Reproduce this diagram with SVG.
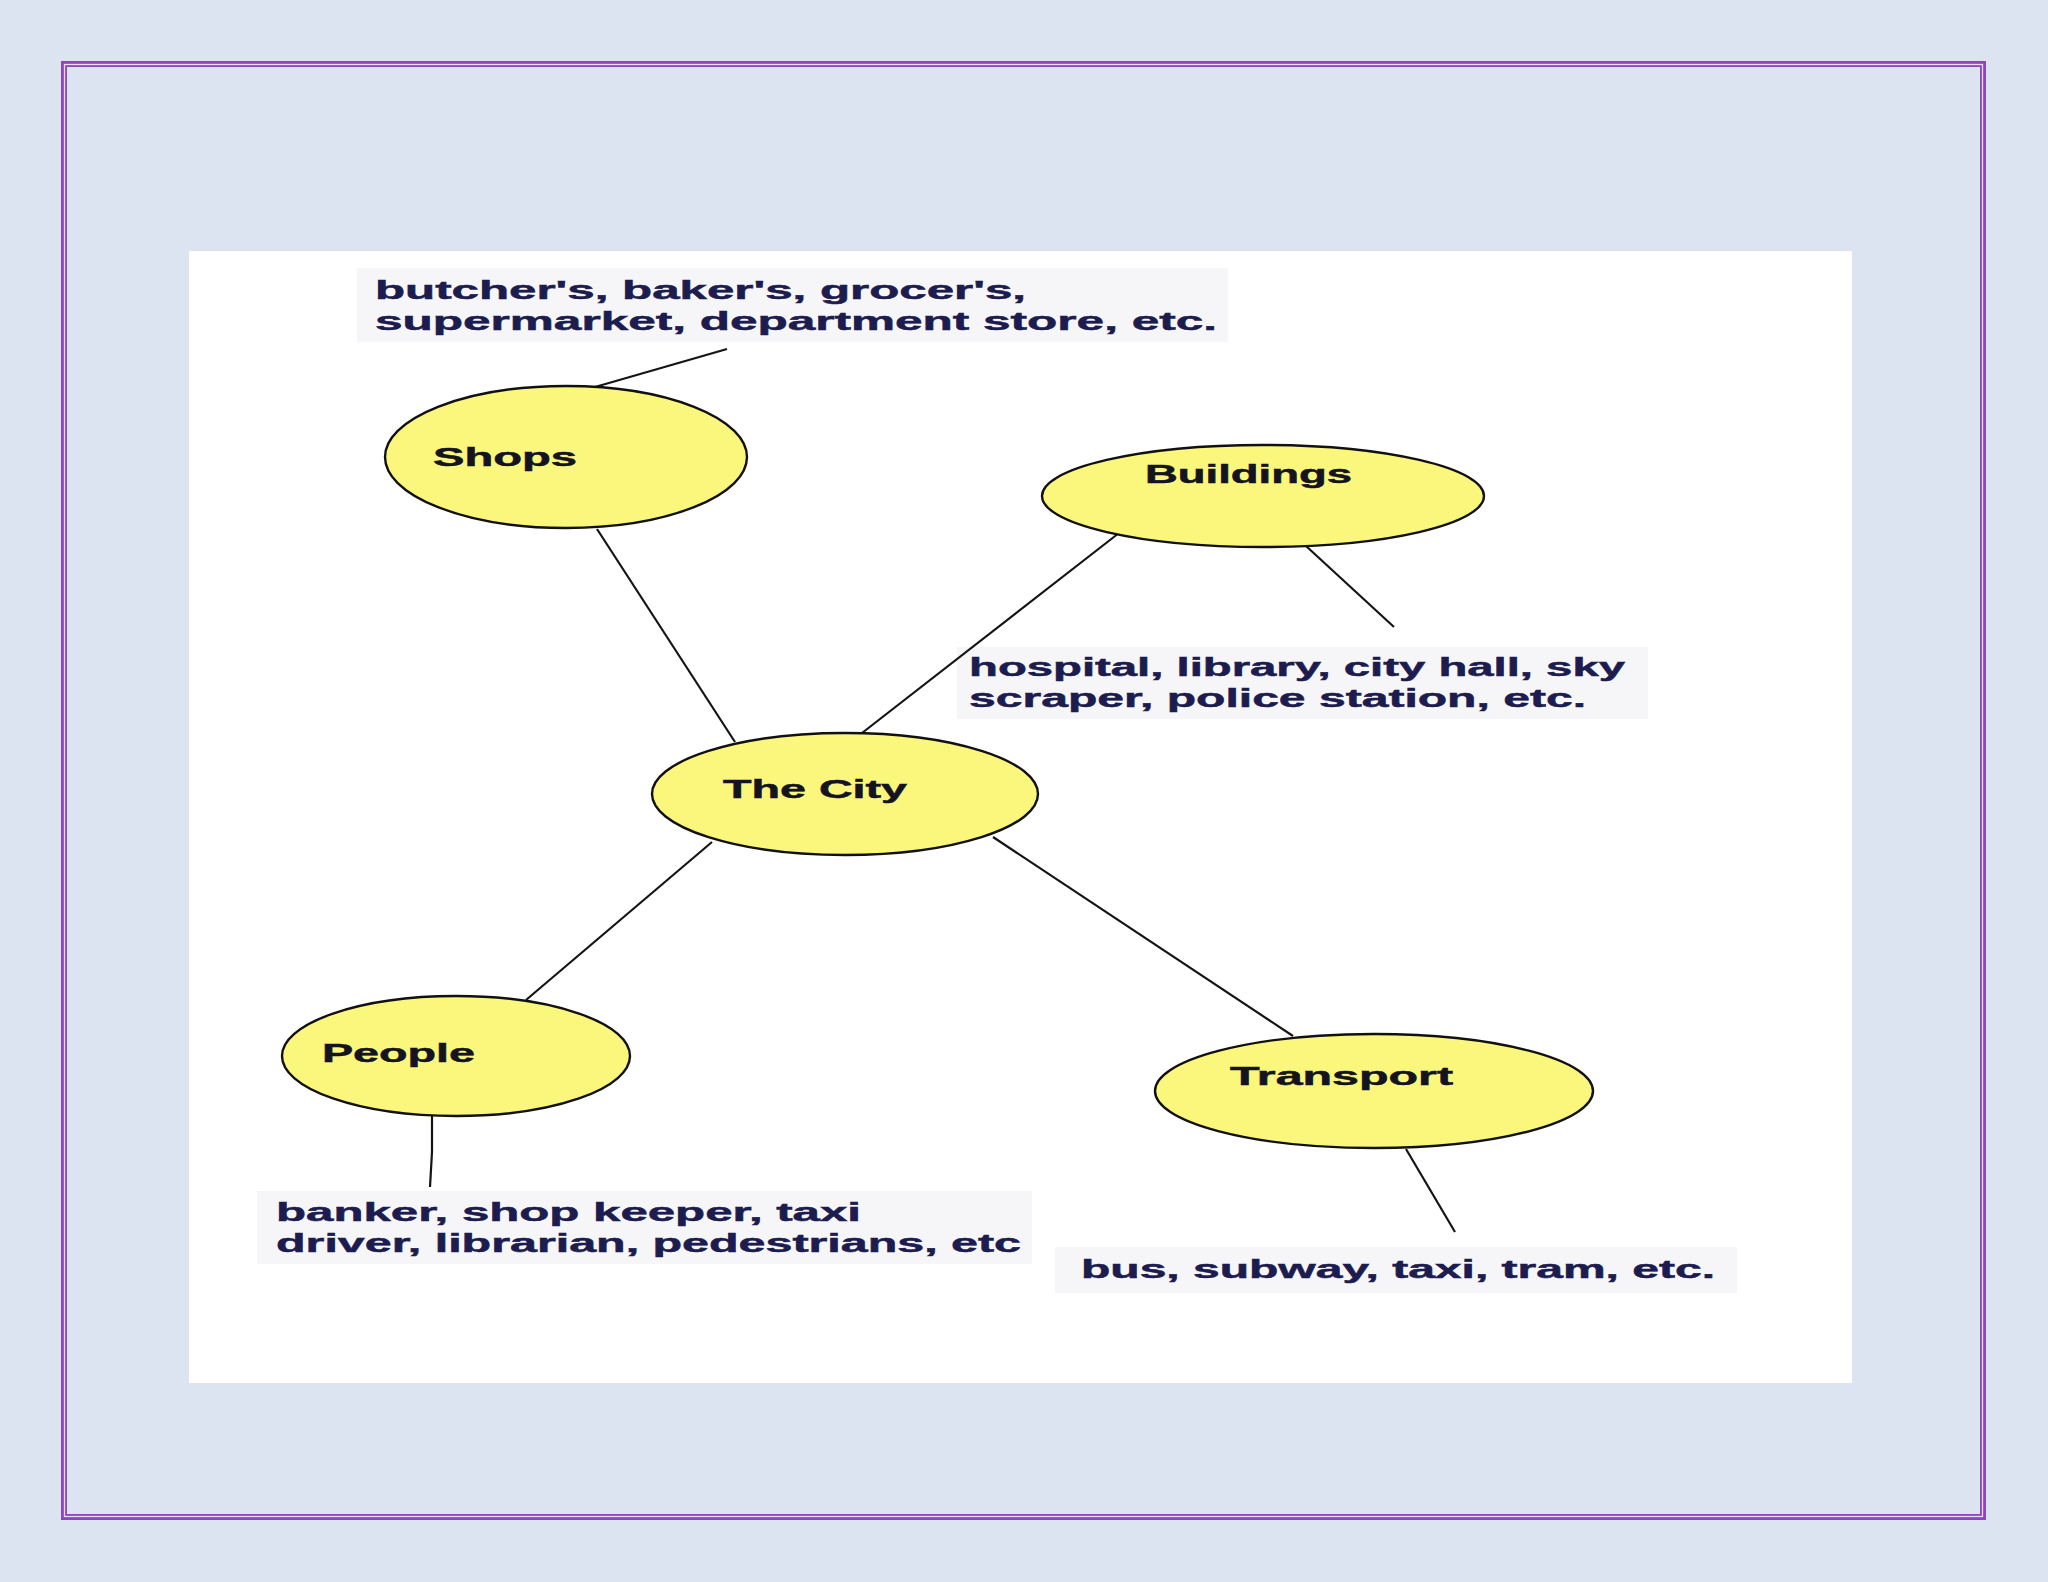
<svg xmlns="http://www.w3.org/2000/svg" width="2048" height="1582" viewBox="0 0 2048 1582">
<style>
.node ellipse{fill:#fbf67c;stroke:#111;stroke-width:2.4}
.nl{font-family:"Liberation Sans",Arial,sans-serif;font-weight:bold;font-size:25px;fill:#141420;stroke:#141420;stroke-width:0.5}
.lb{font-family:"Liberation Sans",Arial,sans-serif;font-weight:bold;font-size:25px;fill:#1c1c4e;stroke:#1c1c4e;stroke-width:0.5}
.lbg{fill:#f6f6f8}
#connectors line,#connectors polyline{stroke:#141414;stroke-width:2.2;fill:none}
</style>
<rect x="0" y="0" width="2048" height="1582" fill="#dbe4f0"/>
<g id="frame">
<rect x="64" y="64" width="1919" height="1453" fill="none" stroke="#8a48bf" stroke-width="6"/>
<rect x="64.5" y="64.5" width="1918" height="1452" fill="none" stroke="#efd9fb" stroke-width="1.3"/>
</g>
<rect x="189" y="251" width="1663" height="1132" fill="#ffffff"/>
<g id="label-backgrounds">
<rect class="lbg" x="357" y="268" width="871" height="74"/>
<rect class="lbg" x="957" y="647" width="691" height="72"/>
<rect class="lbg" x="257" y="1191" width="775" height="73"/>
<rect class="lbg" x="1055" y="1247" width="682" height="46"/>
</g>
<g id="connectors">
<line x1="595" y1="387" x2="727" y2="349"/>
<line x1="597" y1="529" x2="735" y2="742"/>
<line x1="862" y1="733" x2="1119" y2="533"/>
<line x1="1306" y1="546" x2="1394" y2="627"/>
<line x1="712" y1="842" x2="526" y2="1000"/>
<polyline points="432,1116 432,1152 430,1187"/>
<line x1="993" y1="837" x2="1293" y2="1036"/>
<line x1="1406" y1="1149" x2="1455" y2="1232"/>
</g>
<g id="node-shops" class="node">
<ellipse cx="566" cy="457" rx="181" ry="71"/>
<text class="nl" x="433" y="466" textLength="144" lengthAdjust="spacingAndGlyphs">Shops</text>
</g>
<g id="node-buildings" class="node">
<ellipse cx="1263" cy="496" rx="221" ry="51"/>
<text class="nl" x="1145" y="483" textLength="207" lengthAdjust="spacingAndGlyphs">Buildings</text>
</g>
<g id="node-city" class="node">
<ellipse cx="845" cy="794" rx="193" ry="61"/>
<text class="nl" x="723" y="798" textLength="184" lengthAdjust="spacingAndGlyphs">The City</text>
</g>
<g id="node-people" class="node">
<ellipse cx="456" cy="1056" rx="174" ry="60"/>
<text class="nl" x="322" y="1062" textLength="153" lengthAdjust="spacingAndGlyphs">People</text>
</g>
<g id="node-transport" class="node">
<ellipse cx="1374" cy="1091" rx="219" ry="57"/>
<text class="nl" x="1230" y="1085" textLength="223" lengthAdjust="spacingAndGlyphs">Transport</text>
</g>
<g id="label-shops">
<text class="lb" x="375" y="299" textLength="651" lengthAdjust="spacingAndGlyphs">butcher's, baker's, grocer's,</text>
<text class="lb" x="375" y="330" textLength="842" lengthAdjust="spacingAndGlyphs">supermarket, department store, etc.</text>
</g>
<g id="label-buildings">
<text class="lb" x="969" y="676" textLength="656" lengthAdjust="spacingAndGlyphs">hospital, library, city hall, sky</text>
<text class="lb" x="969" y="707" textLength="617" lengthAdjust="spacingAndGlyphs">scraper, police station, etc.</text>
</g>
<g id="label-people">
<text class="lb" x="276" y="1221" textLength="585" lengthAdjust="spacingAndGlyphs">banker, shop keeper, taxi</text>
<text class="lb" x="276" y="1252" textLength="745" lengthAdjust="spacingAndGlyphs">driver, librarian, pedestrians, etc</text>
</g>
<g id="label-transport">
<text class="lb" x="1081" y="1278" textLength="634" lengthAdjust="spacingAndGlyphs">bus, subway, taxi, tram, etc.</text>
</g>
</svg>
